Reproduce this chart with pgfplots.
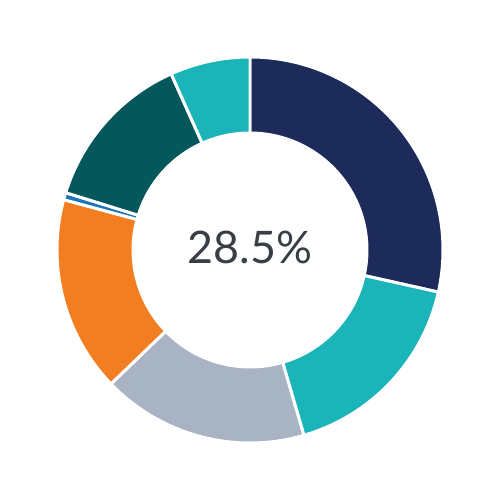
\documentclass[border=0pt]{standalone}
\usepackage{pgfplots}
\usepackage{pgfplotstable}
\pgfplotsset{compat=1.18}
\usepackage{fontspec}
\setmainfont{Lato}

\definecolor{c0}{HTML}{1C2B5A}
\definecolor{c1}{HTML}{1BB4B9}
\definecolor{c2}{HTML}{A8B3C3}
\definecolor{c3}{HTML}{F37E21}
\definecolor{c4}{HTML}{1B75BB}
\definecolor{c5}{HTML}{04575A}
\definecolor{c6}{HTML}{1BB4B9}
\definecolor{textgray}{HTML}{393E46}

% share of each ring segment, clockwise from 12 o'clock
\pgfplotstableread{
idx value
0   28.5
1   17.0
2   17.3
3   16.4
4   0.6
5   13.5
6   6.7
}\ringdata
\pgfplotstablecreatecol[create col/expr accum={\pgfmathaccuma + \thisrow{value}}{0}]{cum}\ringdata

\def\Ro{3.86cm}
\def\Ri{2.34cm}

\begin{document}
\begin{tikzpicture}
\useasboundingbox (-5,-5) rectangle (5,5);
\begin{axis}[
  at={(0,0)}, anchor=center,
  width=6cm, height=6cm, scale only axis,
  hide axis, clip=false,
  xmin=-1, xmax=1, ymin=-1, ymax=1,
]
\addplot[
  scatter, only marks, mark=*, mark size=0pt,
  mark options={draw=none, fill=none},
  visualization depends on={\thisrow{value} \as \val},
  visualization depends on={\thisrow{cum} \as \cum},
  visualization depends on={\thisrow{idx} \as \idx},
  scatter/@pre marker code/.code={%
    \pgfmathsetmacro\sa{90-3.6*(\cum-\val)}%
    \pgfmathsetmacro\sb{90-3.6*\cum}%
    \pgfmathtruncatemacro\ci{round(\idx)}%
    \fill[c\ci, draw=white, line width=1.7pt, line join=miter]
      (\sa:\Ro) arc[start angle=\sa, end angle=\sb, radius=\Ro]
      -- (\sb:\Ri) arc[start angle=\sb, end angle=\sa, radius=\Ri] -- cycle;
    \begin{scope}},
  scatter/@post marker code/.code={\end{scope}},
] table[x expr=0, y expr=0] {\ringdata};
\node[font=\fontsize{25.5}{30}\selectfont, text=textgray, anchor=center]
  at (axis cs:0,0.02) {28.5\%};
\end{axis}
\end{tikzpicture}
\end{document}
